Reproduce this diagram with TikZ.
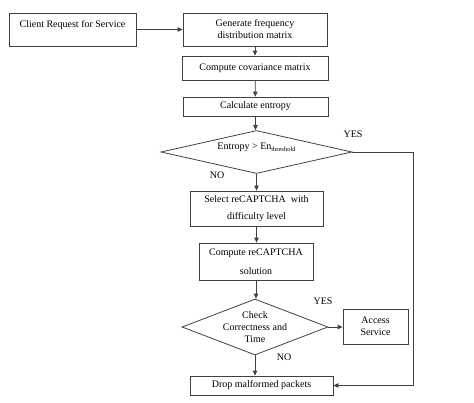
\documentclass[tikz,border=0pt]{standalone}
\usepackage{fontspec}
\setmainfont{Liberation Serif}
\usetikzlibrary{arrows.meta,shapes.geometric}

\begin{document}
\begin{tikzpicture}[x=1pt,y=-1pt]
\tikzstyle{every node}+=[font=\fontsize{10}{12}\selectfont]
\tikzstyle{box}=[draw=black!75, line width=0.8pt, rectangle, inner sep=0pt, align=center]
\tikzstyle{dec}=[draw=black!75, line width=0.8pt, diamond, inner sep=0pt]
\tikzstyle{arr}=[draw=black!75, line width=0.8pt, -{Triangle[length=5pt,width=4.5pt]}]
\useasboundingbox (0,0) rectangle (474,402);
% boxes
\node [box, minimum width=127, minimum height=33] (client) at (72.5,29.5) {Client Request for Service\\ \mbox{}};
\node [box, minimum width=144, minimum height=33] (freq) at (255,29.5) {Generate frequency\\distribution matrix};
\node [box, minimum width=146, minimum height=24] (cov) at (255,68) {Compute covariance matrix};
\node [box, minimum width=145, minimum height=19] (ent) at (255.5,106.5) {Calculate entropy};
\node [dec, minimum width=191, minimum height=43,
  label={[yshift=5pt]center:Entropy > En\raisebox{-2pt}{\fontsize{6.5}{8}\selectfont threshold}}] (chk1) at (256.5,152) {};
\node [box, minimum width=133, minimum height=35] (sel) at (256.5,208.5) {Select reCAPTCHA~ with\\[5pt]difficulty level};
\node [box, minimum width=114, minimum height=37] (sol) at (256,261.5) {Compute reCAPTCHA\\[7pt]solution};
\node [dec, minimum width=146, minimum height=56,
  label={[align=center]center:Check\\Correctness and\\Time}] (chk2) at (255,327) {};
\node [box, minimum width=65, minimum height=35] (acc) at (375.5,326.5) {Access\\Service};
\node [box, minimum width=143, minimum height=19] (drop) at (261.5,385.5) {Drop malformed packets};
% labels
\node (yes1) at (353,134) {YES};
\node (no1) at (217,175) {NO};
\node (yes2) at (323,301) {YES};
\node (no2) at (284,357) {NO};
% arrows
\draw [arr] (client) -- (freq);
\draw [arr] (freq) -- (cov);
\draw [arr] (cov) -- (ent);
\draw [arr] (ent.south) -- (ent.south |- chk1.north);
\draw [arr] (chk1) -- (chk1.south |- sel.north);
\draw [arr] (sel) -- (sel.south |- sol.north);
\draw [arr] (sol) -- (sol.south |- chk2.north);
\draw [arr] (chk2.east) -- (acc.west |- chk2.east);
\draw [arr] (chk2.south) -- (chk2.south |- drop.north);
\coordinate (yesturn) at (413,152);
\draw [arr] (chk1.east) -- (yesturn) |- (drop.east);
\end{tikzpicture}
\end{document}
